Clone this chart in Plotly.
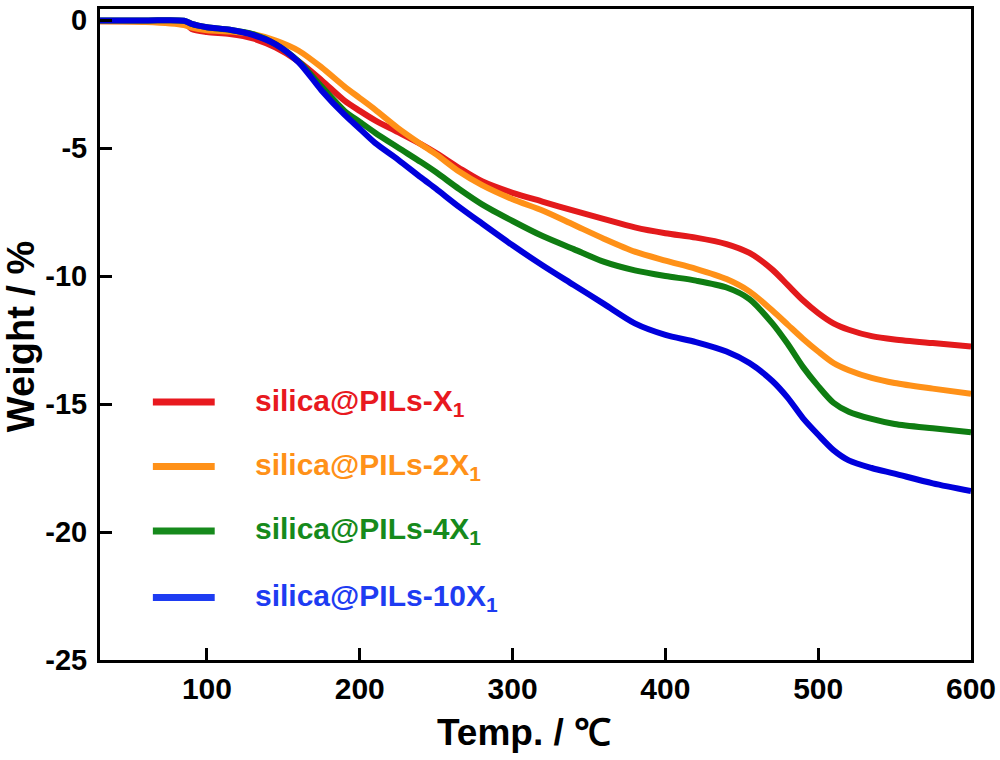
import plotly.graph_objects as go

# Temperature grid (°C)
temp = [30, 60, 85, 90, 100, 115, 130, 145, 160, 175, 190, 200, 210, 225, 240, 250, 265, 280,
        300, 320, 340, 360, 380, 400, 420, 440, 455, 470, 480, 490, 500, 510, 520, 535, 550,
        575, 600]

w_x1 = [-0.05, -0.05, -0.1, -0.35, -0.47, -0.55, -0.72, -1.08, -1.62, -2.35, -3.15, -3.55, -3.92,
        -4.38, -4.85, -5.2, -5.78, -6.3, -6.75, -7.1, -7.45, -7.78, -8.1, -8.33, -8.5, -8.75,
        -9.1, -9.75, -10.35, -10.95, -11.45, -11.85, -12.1, -12.35, -12.48, -12.62, -12.75]

w_2x1 = [-0.05, -0.08, -0.2, -0.3, -0.4, -0.45, -0.55, -0.8, -1.2, -1.85, -2.6, -3.05, -3.5,
         -4.22, -4.85, -5.25, -5.92, -6.45, -7.0, -7.45, -8.0, -8.55, -9.05, -9.4, -9.72, -10.12,
         -10.6, -11.35, -11.9, -12.45, -12.95, -13.4, -13.68, -13.98, -14.18, -14.4, -14.6]

w_4x1 = [-0.02, -0.02, -0.03, -0.15, -0.28, -0.38, -0.55, -0.95, -1.62, -2.6, -3.55, -3.98, -4.4,
         -4.98, -5.55, -5.95, -6.6, -7.2, -7.85, -8.45, -8.95, -9.45, -9.78, -10.0, -10.18,
         -10.45, -10.9, -11.85, -12.65, -13.55, -14.3, -14.95, -15.3, -15.58, -15.78, -15.95, -16.1]

w_10x1 = [-0.02, -0.02, -0.03, -0.15, -0.28, -0.38, -0.58, -0.95, -1.65, -2.75, -3.7, -4.25, -4.8,
          -5.45, -6.15, -6.6, -7.3, -7.95, -8.8, -9.6, -10.35, -11.1, -11.85, -12.3, -12.58, -12.95,
          -13.4, -14.1, -14.75, -15.55, -16.2, -16.8, -17.2, -17.5, -17.72, -18.1, -18.4]

names = ["silica@PILs-X<sub>1</sub>", "silica@PILs-2X<sub>1</sub>",
         "silica@PILs-4X<sub>1</sub>", "silica@PILs-10X<sub>1</sub>"]
series = [w_x1, w_2x1, w_4x1, w_10x1]
colors = ["#e31a1c", "#ff9118", "#0f7d12", "#0000dc"]
legend_colors = ["#e8191f", "#ff9118", "#168a1c", "#1e3cf2"]

x_ticks = [100, 200, 300, 400, 500, 600]
x_ticktext = ["100", "200", "300", "400", "500", "600"]
y_ticks = [0, -5, -10, -15, -20, -25]
y_ticktext = ["0", "-5", "-10", "-15", "-20", "-25"]

FONT = "Liberation Sans, Arial, Helvetica, sans-serif"

fig = go.Figure()
for name, ys, c in zip(names, series, colors):
    fig.add_trace(go.Scatter(x=temp, y=ys, mode="lines", name=name,
                             line=dict(color=c, width=6, shape="spline", smoothing=0.8)))

axis_common = dict(showgrid=False, zeroline=False, showline=True, linecolor="black",
                   linewidth=3, mirror=True, ticks="inside", ticklen=12, tickwidth=2.5,
                   tickcolor="black")

fig.update_xaxes(range=[30, 600], tickvals=x_ticks, ticktext=x_ticktext, ticklabelstandoff=0,
                 tickfont=dict(family=FONT, size=30, color="black", weight="bold"),
                 **axis_common)
fig.update_yaxes(range=[-25, 0.43], tickvals=y_ticks, ticktext=y_ticktext, ticklabelstandoff=4,
                 tickfont=dict(family=FONT, size=29, color="black", weight="bold"),
                 **axis_common)

# custom legend
rows_y = [0.3963, 0.2973, 0.1982, 0.096]
for name, c, lc, yy in zip(names, colors, legend_colors, rows_y):
    fig.add_shape(type="line", xref="paper", yref="paper", x0=0.0607, x1=0.1317, y0=yy, y1=yy,
                  line=dict(color=lc, width=7))
    fig.add_annotation(xref="paper", yref="paper", x=0.1753, y=yy, xanchor="left",
                       yanchor="middle", text=name, showarrow=False,
                       font=dict(family=FONT, size=30, color=lc, weight="bold"))

# axis titles
fig.add_annotation(xref="paper", yref="paper", x=0.487, y=-0.111, xanchor="center",
                   yanchor="middle", text="Temp. / ℃", showarrow=False,
                   font=dict(family=FONT, size=37, color="black", weight="bold"))
fig.add_annotation(xref="paper", yref="paper", x=-0.0899, y=0.497, xanchor="center",
                   yanchor="middle", text="Weight / %", showarrow=False, textangle=-90,
                   font=dict(family=FONT, size=38, color="black", weight="bold"))

fig.update_layout(width=1000, height=760, margin=dict(l=100, r=27, t=4, b=100),
                  plot_bgcolor="white", paper_bgcolor="white", showlegend=False)

fig.write_html("out.html")
